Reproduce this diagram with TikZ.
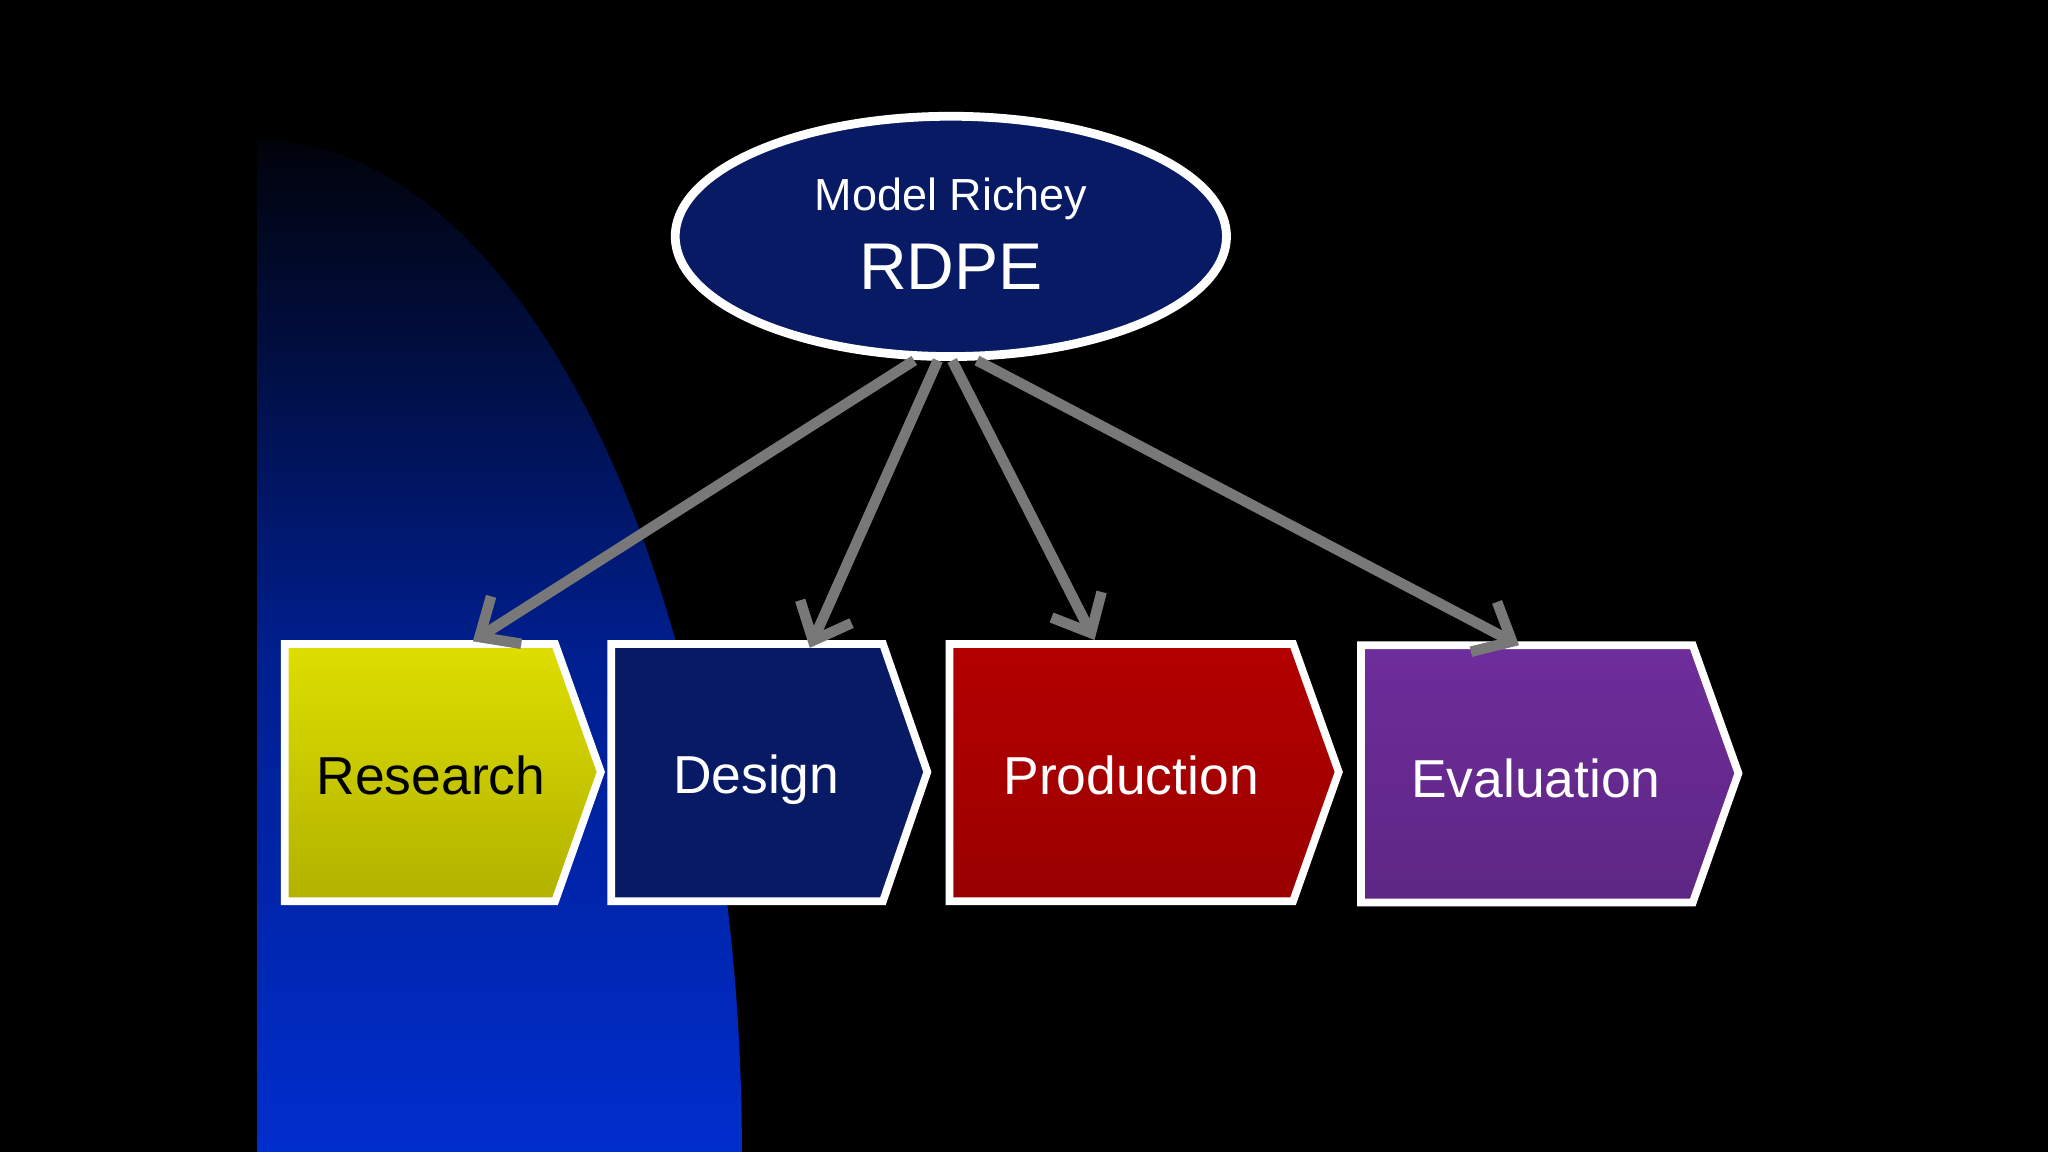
\documentclass[tikz,border=0pt]{standalone}
\usepackage{fontspec}
\setmainfont{Liberation Sans}
\usetikzlibrary{arrows.meta,shapes.geometric}
\definecolor{navy}{RGB}{8,26,100}
\definecolor{ylw}{RGB}{222,222,0}
\definecolor{rd}{RGB}{180,0,0}
\definecolor{prp}{RGB}{110,45,155}
\definecolor{arr}{RGB}{120,120,120}
\begin{document}
\begin{tikzpicture}[x=0.013061cm,y=-0.013061cm,
  chev/.style={draw=white,line width=2.2pt,line join=miter},
  lbl/.style={font=\fontsize{15.2pt}{18pt}\selectfont},
  conn/.style={draw=arr,line width=3pt,-{Straight Barb[length=9pt,width=16pt,line width=3pt]}}]
\useasboundingbox (0,0) rectangle (1568,882);
\fill[black] (0,0) rectangle (1568,882);
% blue quarter ellipse
\shade[top color=black!90!navy, bottom color={rgb,255:red,0;green,45;blue,205}, middle color={rgb,255:red,0;green,30;blue,140}]
  (197,882) -- (197,107) arc[start angle=90,end angle=0,x radius=371,y radius=-775] -- cycle;
% ellipse
\node[ellipse, draw=white, line width=2.5pt, fill=navy, minimum width=5.512cm, minimum height=2.403cm, inner sep=0pt] (top) at (728,181) {};
\node[text=white, font=\fontsize{12.8pt}{15pt}\selectfont] (t1) at (728,152) {Model Richey};
\node[text=white, font=\fontsize{18.8pt}{22pt}\selectfont] (t2) at (728,204) {RDPE};
% chevrons
\shade[top color=ylw, bottom color=ylw!80!black] (218,493) -- (425,493) -- (460,591) -- (425,690) -- (218,690) -- cycle;
\draw[chev] (218,493) -- (425,493) -- (460,591) -- (425,690) -- (218,690) -- cycle;
\fill[navy] (468,493) -- (676,493) -- (710,591) -- (676,690) -- (468,690) -- cycle;
\draw[chev] (468,493) -- (676,493) -- (710,591) -- (676,690) -- (468,690) -- cycle;
\shade[top color=rd, bottom color=rd!85!black] (727,493) -- (990,493) -- (1025,591) -- (990,690) -- (727,690) -- cycle;
\draw[chev] (727,493) -- (990,493) -- (1025,591) -- (990,690) -- (727,690) -- cycle;
\shade[top color=prp, bottom color=prp!85!black] (1042,494) -- (1296,494) -- (1331,592) -- (1296,691) -- (1042,691) -- cycle;
\draw[chev] (1042,494) -- (1296,494) -- (1331,592) -- (1296,691) -- (1042,691) -- cycle;
\node[lbl, text=black] (r) at (330,594) {Research};
\node[lbl, text=white] (d) at (579,597) {Design};
\node[lbl, text=white] (p) at (866,594) {Production};
\node[lbl, text=white] (e) at (1176,596) {Evaluation};
% arrow ends
\coordinate (s1) at (700,276); \coordinate (s2) at (718,276);
\coordinate (s3) at (729,276); \coordinate (s4) at (748,276);
\coordinate (e1) at (362,491); \coordinate (e2) at (620,496);
\coordinate (e3) at (838,490); \coordinate (e4) at (1163,494);
\draw[conn] (s1) -- (e1);
\draw[conn] (s2) -- (e2);
\draw[conn] (s3) -- (e3);
\draw[conn] (s4) -- (e4);
\end{tikzpicture}
\end{document}
